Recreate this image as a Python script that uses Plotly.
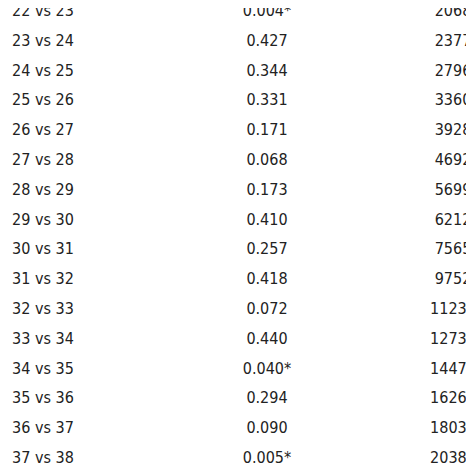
import plotly.graph_objects as go

comparisons = ["22 vs 23","23 vs 24","24 vs 25","25 vs 26","26 vs 27","27 vs 28","28 vs 29","29 vs 30",
               "30 vs 31","31 vs 32","32 vs 33","33 vs 34","34 vs 35","35 vs 36","36 vs 37","37 vs 38"]
p_values = ["0.004*","0.427","0.344","0.331","0.171","0.068","0.173","0.410",
            "0.257","0.418","0.072","0.440","0.040*","0.294","0.090","0.005*"]
counts = ["2068","2377","2796","3360","3928","4692","5699","6212",
          "7565","9752","11235","12738","14478","16261","18036","20382"]

rows = list(range(len(comparisons)))
ypos = [4 + 29.8 * i for i in rows]
font = dict(family="Liberation Sans Narrow, DejaVu Sans Condensed, Arial Narrow, sans-serif",
            size=16, color="#222222")

fig = go.Figure()
fig.add_trace(go.Scatter(x=[4]*len(rows), y=ypos, text=comparisons, mode="text",
                         textposition="middle right", textfont=font, hoverinfo="skip"))
fig.add_trace(go.Scatter(x=[259]*len(rows), y=ypos, text=p_values, mode="text",
                         textposition="middle center", textfont=font, hoverinfo="skip"))
fig.add_trace(go.Scatter(x=[445]*len(rows), y=ypos, text=counts, mode="text",
                         textposition="middle center", textfont=font, hoverinfo="skip"))
fig.update_layout(width=474, height=474, margin=dict(l=0, r=0, t=0, b=0),
                  plot_bgcolor="white", paper_bgcolor="white", showlegend=False,
                  xaxis=dict(range=[0, 474], visible=False, fixedrange=True),
                  yaxis=dict(range=[474, 0], visible=False, fixedrange=True))
fig.write_html("out.html")
